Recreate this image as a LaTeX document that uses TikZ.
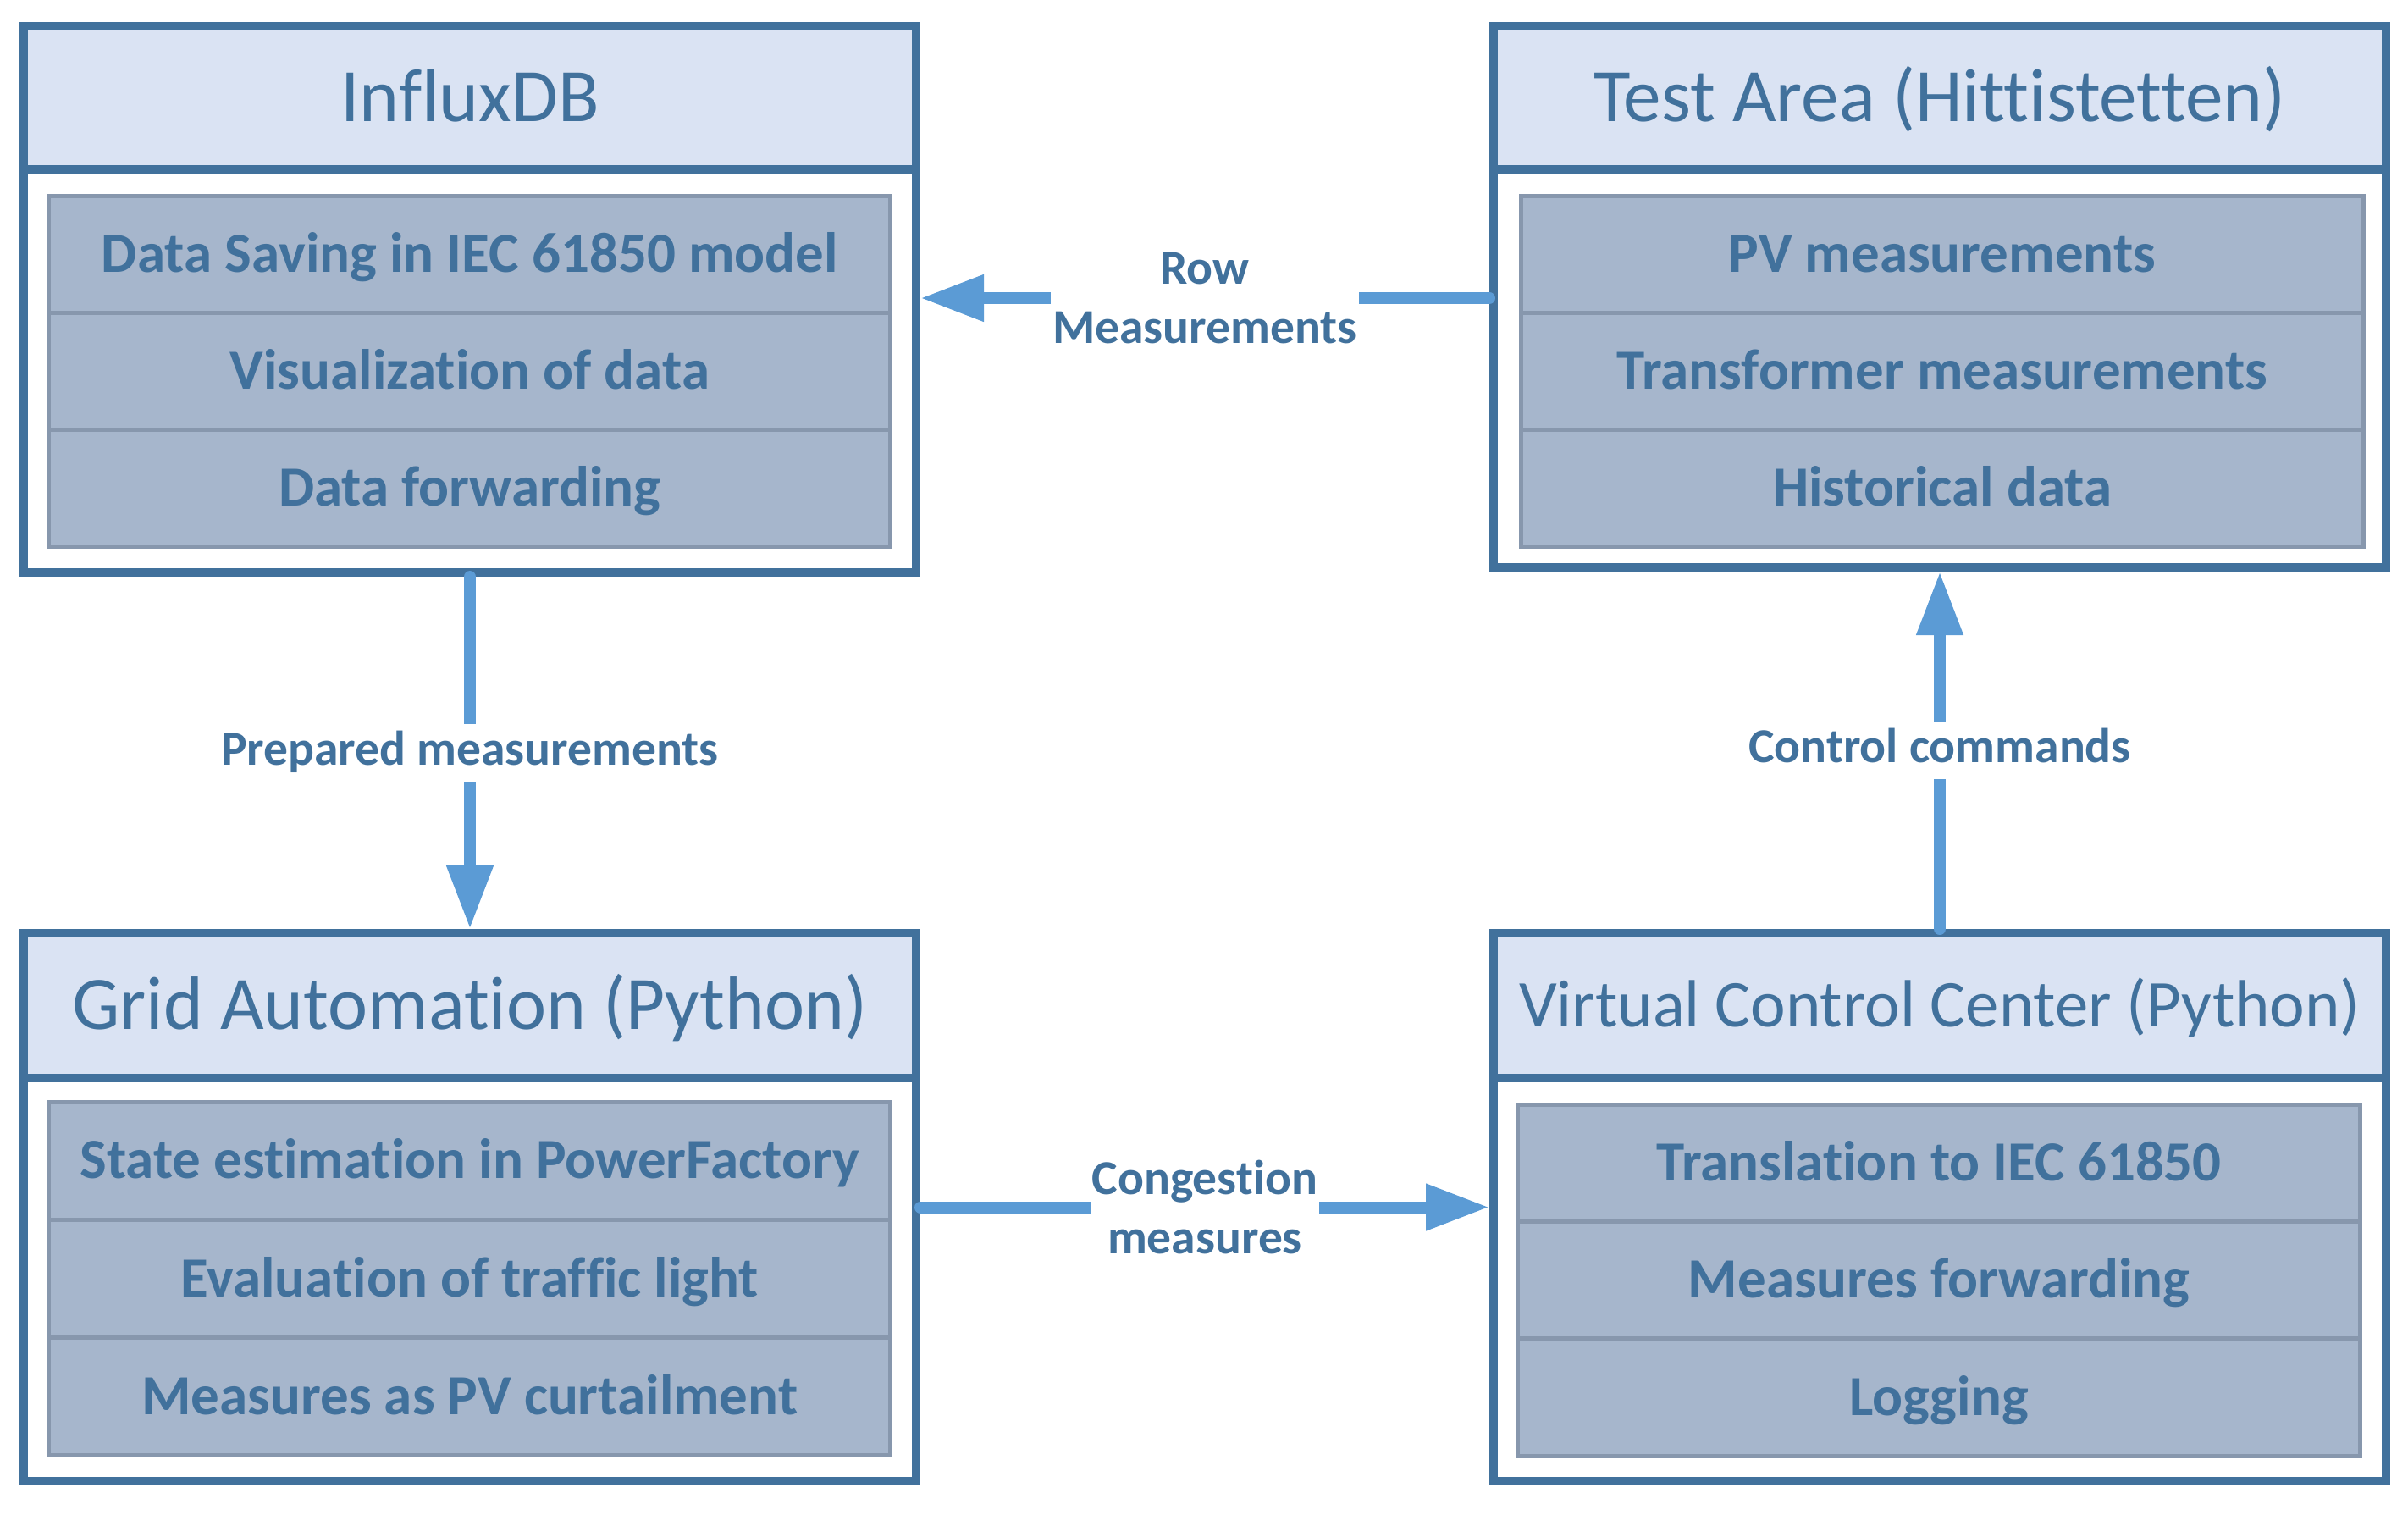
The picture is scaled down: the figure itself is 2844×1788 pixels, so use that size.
\documentclass[tikz,border=0pt]{standalone}
\usepackage{fontspec}
\setmainfont{Carlito}[Ligatures=NoCommon]
\usetikzlibrary{arrows.meta}
\definecolor{bordc}{HTML}{41719C}
\definecolor{headc}{HTML}{DAE3F3}
\definecolor{itemc}{HTML}{A6B6CC}
\definecolor{itembc}{HTML}{8797AD}
\definecolor{txtc}{HTML}{41719C}
\definecolor{arrc}{HTML}{5B9BD5}
\begin{document}
\begin{tikzpicture}[x=0.25pt,y=-0.25pt,
  outerbox/.style={draw=bordc, line width=2.5pt, fill=white, minimum width=263.5pt, inner sep=0pt},
  headbox/.style={draw=bordc, line width=2.5pt, fill=headc, minimum width=263.5pt, inner sep=0pt, text=txtc,
    font=\fontsize{22.3pt}{26pt}\selectfont, text height=14.1pt, text depth=0pt},
  itembox/.style={draw=itembc, line width=1.25pt, fill=itemc, minimum width=248.6pt, inner sep=0pt, text=txtc,
    font=\bfseries\fontsize{16.75pt}{20pt}\selectfont, text height=10.6pt, text depth=0pt},
  conn/.style={draw=arrc, line width=3.5pt, line cap=round, -{Triangle[length=18.75pt,width=13pt]}},
  lab/.style={fill=white, text=txtc, font=\bfseries\fontsize{14.4pt}{17.5pt}\selectfont, inner xsep=0.5pt, inner ysep=1.4pt},
  labv/.style={lab, text height=10.8pt, text depth=3.6pt}
]
\useasboundingbox (0,0) rectangle (2844,1788);

% ---------- InfluxDB ----------
\node[outerbox, minimum height=161.25pt] (influx) at (555,353.5) {};
\node[headbox, minimum height=42.25pt] (influxH) at (555,115.5) {InfluxDB};
\node[itembox, minimum height=34.5pt] (influx1) at (554.75,300) {Data Saving in IEC 61850 model};
\node[itembox, minimum height=34.5pt] (influx2) at (554.75,438) {Visualization of data};
\node[itembox, minimum height=34.5pt] (influx3) at (554.75,576) {Data forwarding};

% ---------- Test Area ----------
\node[outerbox, minimum height=159.75pt] (test) at (2291,350.5) {};
\node[headbox, minimum height=42.25pt] (testH) at (2291,115.5) {Test Area (Hittistetten)};
\node[itembox, minimum height=34.5pt] (test1) at (2294,300) {PV measurements};
\node[itembox, minimum height=34.5pt] (test2) at (2294,438) {Transformer measurements};
\node[itembox, minimum height=34.5pt] (test3) at (2294,576) {Historical data};

% ---------- Grid Automation ----------
\node[outerbox, minimum height=161.75pt] (grid) at (555,1425.5) {};
\node[headbox, minimum height=42.75pt] (gridH) at (555,1187.5) {Grid Automation (Python)};
\node[itembox, minimum height=34.83pt] (grid1) at (554.75,1370.7) {State estimation in PowerFactory};
\node[itembox, minimum height=34.83pt] (grid2) at (554.75,1510) {Evaluation of traffic light};
\node[itembox, minimum height=34.83pt] (grid3) at (554.75,1649.3) {Measures as PV curtailment};

% ---------- Virtual Control Center ----------
\node[outerbox, minimum height=161.75pt] (vcc) at (2291,1425.5) {};
\node[headbox, minimum height=42.75pt, font=\fontsize{19.7pt}{23pt}\selectfont, text height=12.4pt] (vccH) at (2291,1187.5) {Virtual Control Center (Python)};
\node[itembox, minimum height=34.6pt] (vcc1) at (2290,1373.2) {Translation to IEC 61850};
\node[itembox, minimum height=34.6pt] (vcc2) at (2290,1511.5) {Measures forwarding};
\node[itembox, minimum height=34.6pt] (vcc3) at (2290,1649.8) {Logging};

% ---------- connectors ----------
\coordinate (rowc) at (1425,352);
\draw[conn] (test.west |- rowc) -- node[lab, align=center] {Row\\Measurements} (influx.east |- rowc);
\draw[conn] (influx.south) -- node[labv] {Prepared measurements} (grid.north);
\draw[conn] (vcc.north) -- node[labv] {Control commands} (test.south);
\draw[conn] (grid.east) -- node[lab, align=center] {Congestion\\measures} (vcc.west);
\end{tikzpicture}
\end{document}
